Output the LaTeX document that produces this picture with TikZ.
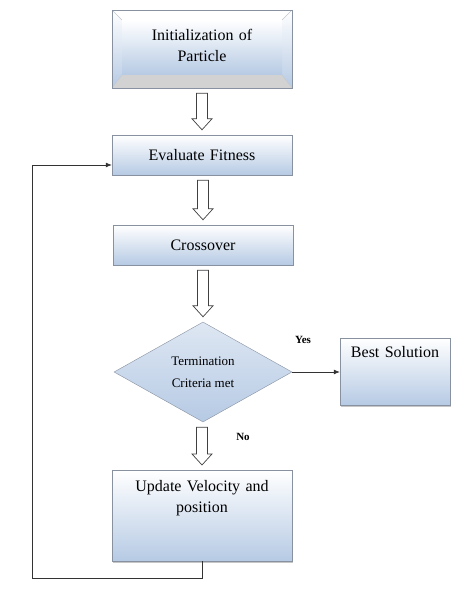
\documentclass[tikz,border=0pt]{standalone}
\usepackage{fontspec}
\setmainfont{Liberation Serif}
\newfontfamily\chartfont{Liberation Serif}
\usetikzlibrary{calc,shapes.geometric,shadows,arrows.meta}

\definecolor{boxblue}{RGB}{182,202,228}
\definecolor{boxline}{RGB}{135,145,160}

\tikzset{
  flowbox/.style={draw=boxline, top color=white, bottom color=boxblue, text width=164pt, inner xsep=8pt,
    align=center, font=\chartfont\fontsize{16}{21}\selectfont,
    drop shadow={shadow xshift=1pt, shadow yshift=-1.5pt, opacity=0.45}},
  decision/.style={diamond, draw=boxline, top color=boxblue!45, bottom color=boxblue, inner sep=0pt,
    minimum width=178pt, minimum height=100pt, align=center, font=\chartfont\fontsize{13}{22}\selectfont},
  blockarrow/.style={draw=black!75, fill=white, line width=0.7pt},
  flowline/.style={draw=black!80, line width=0.7pt, -{Latex[length=6pt,width=5pt]}},
  answer/.style={font=\chartfont\fontsize{11}{13}\selectfont\bfseries},
  bevel/.style={path picture={
    \fill[white] (path picture bounding box.north west) -- (path picture bounding box.north east)
      -- ++(-10pt,-10pt) -- ($(path picture bounding box.north west)+(10pt,-10pt)$) -- cycle;
    \fill[gray!35] (path picture bounding box.south west) -- (path picture bounding box.south east)
      -- ++(-10pt,13pt) -- ($(path picture bounding box.south west)+(10pt,13pt)$) -- cycle;
    \shade[top color=white, bottom color=boxblue] ($(path picture bounding box.north west)+(10pt,-10pt)$)
      rectangle ($(path picture bounding box.south east)+(-10pt,13pt)$);
    \draw[boxline!50] (path picture bounding box.north west) -- ++(10pt,-10pt)
      (path picture bounding box.north east) -- ++(-10pt,-10pt)
      (path picture bounding box.south west) -- ++(10pt,13pt)
      (path picture bounding box.south east) -- ++(-10pt,13pt);
  }}
}

% hollow arrow between two nodes
\newcommand{\hollowarrow}[2]{%
  \draw[blockarrow] ($(#1.south -| #2.north)+(-5.5pt,-5pt)$) -- ($(#2.north)+(-5.5pt,16pt)$) -- ++(-4.5pt,0)
    -- ($(#2.north)+(0,5pt)$) -- ($(#2.north)+(10pt,16pt)$) -- ++(-4.5pt,0)
    -- ($(#1.south -| #2.north)+(5.5pt,-5pt)$) -- cycle;}

\begin{document}
\begin{tikzpicture}[x=1pt,y=1pt]
\useasboundingbox (0,0) rectangle (474,594);

\node (init) at (202,545) [flowbox, fill=gray!20, bevel, minimum height=78pt, text depth=28pt] {Initialization of\\Particle};
\node (eval) at (202,439) [flowbox, minimum height=40pt] {Evaluate Fitness};
\node (cross) at (203,349) [flowbox, minimum height=40pt] {Crossover};
\node (term) at (203,222) [decision] {Termination\\Criteria met};
\node (best) at (395,256) [flowbox, anchor=north, text width=94pt, text height=11pt, text depth=40pt, inner ysep=8pt] {Best Solution};
\node (update) at (202,124) [flowbox, anchor=north, text height=11pt, text depth=60pt, inner ysep=10pt] {Update Velocity and\\position};

\hollowarrow{init}{eval}
\hollowarrow{eval}{cross}
\hollowarrow{cross}{term}
\hollowarrow{term}{update}

\draw[flowline] (term.east) -- (term.east -| best.west);
\node (yes) at (303,254) [answer] {Yes};
\node (no) at (243,157) [answer] {No};

% loop back to fitness
\coordinate (corner) at (32,16);
\draw[flowline] (update.south) |- (corner) |- ($(eval.west)+(0,-10pt)$);
\end{tikzpicture}
\end{document}
